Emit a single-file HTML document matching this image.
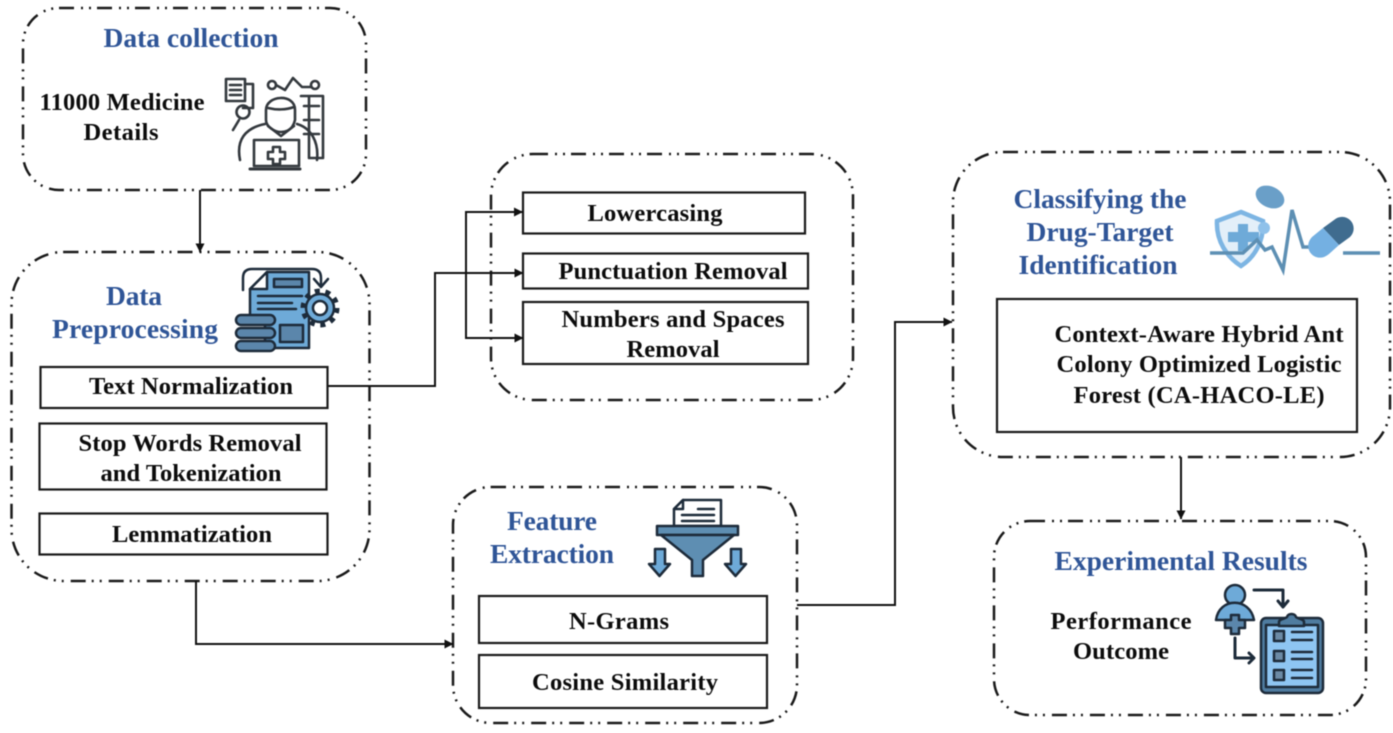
<!DOCTYPE html>
<html><head><meta charset="utf-8"><style>
html,body{margin:0;padding:0;background:#fff;width:1393px;height:733px;overflow:hidden}
svg{display:block;filter:blur(.45px)}
text{font-family:"Liberation Serif",serif;font-weight:bold;font-size:24.5px;fill:#0c0c0c;text-anchor:middle}
.h{fill:#2f5597;font-size:27.5px}
.b{fill:none;stroke:#1a1a1a;stroke-width:2.5;stroke-dasharray:15 7 2 6 2 6}
.r{fill:#fff;stroke:#1a1a1a;stroke-width:2.2}
.c{fill:none;stroke:#111;stroke-width:2}
.i{stroke:#1d2b3a;stroke-width:2.5;stroke-linejoin:round;stroke-linecap:round}
.k{fill:none;stroke:#33383d;stroke-width:2.6;stroke-linejoin:round;stroke-linecap:round}
</style></head><body>
<svg width="1393" height="733" viewBox="0 0 1393 733" xmlns="http://www.w3.org/2000/svg">
<defs><marker id="a" markerWidth="10" markerHeight="10" refX="8.500" refY="5" orient="auto" markerUnits="userSpaceOnUse"><path d="M0 0.500L9 5L0 9.500Z" fill="#111"/></marker></defs>
<rect class="b" x="23" y="8" width="343" height="182" rx="36"/>
<rect class="b" x="11.500" y="252" width="358" height="329" rx="52"/>
<rect class="b" x="491" y="154" width="362" height="246" rx="42"/>
<rect class="b" x="453" y="487" width="344" height="236" rx="38"/>
<rect class="b" x="953" y="152" width="437" height="305" rx="50"/>
<rect class="b" x="994" y="521" width="372" height="194" rx="36"/>

<rect class="r" x="40.500" y="367" width="287" height="41"/>
<rect class="r" x="39.500" y="423.500" width="287" height="66"/>
<rect class="r" x="39.500" y="513.500" width="288" height="41"/>
<rect class="r" x="523" y="192.500" width="282" height="41"/>
<rect class="r" x="523" y="253.500" width="285" height="35"/>
<rect class="r" x="523" y="302" width="285" height="62"/>
<rect class="r" x="479" y="596" width="288" height="47"/>
<rect class="r" x="479" y="655" width="288" height="53"/>
<rect class="r" x="997" y="299" width="360" height="133"/>

<path class="c" d="M200 190V252" marker-end="url(#a)"/>
<path class="c" d="M328 386H435V273H523" marker-end="url(#a)"/>
<path class="c" d="M523 212H466V338H523" marker-end="url(#a)"/>
<path class="c" d="M196 581V644H453" marker-end="url(#a)"/>
<path class="c" d="M797 605H895V322H952" marker-end="url(#a)"/>
<path class="c" d="M1181 457V519" marker-end="url(#a)"/>
<path d="M523 212l-9 -4.500v9z" fill="#111"/>

<text class="h" x="191" y="47" textLength="175">Data collection</text>
<text x="122" y="110" textLength="165">11000 Medicine</text>
<text x="121" y="140" textLength="75">Details</text>
<text class="h" x="134" y="305" textLength="56">Data</text>
<text class="h" x="135" y="338" textLength="166">Preprocessing</text>
<text x="191" y="394" textLength="204">Text Normalization</text>
<text x="190" y="451" textLength="223">Stop Words Removal</text>
<text x="191" y="481" textLength="181">and Tokenization</text>
<text x="192" y="542" textLength="160">Lemmatization</text>
<text x="655" y="221" textLength="135">Lowercasing</text>
<text x="673" y="279" textLength="229">Punctuation Removal</text>
<text x="673" y="327" textLength="223">Numbers and Spaces</text>
<text x="673" y="357" textLength="93">Removal</text>
<text class="h" x="552" y="530" textLength="90">Feature</text>
<text class="h" x="552" y="563" textLength="124">Extraction</text>
<text x="619" y="629" textLength="100">N-Grams</text>
<text x="625" y="690" textLength="186">Cosine Similarity</text>
<text class="h" x="1100" y="208" textLength="173">Classifying the</text>
<text class="h" x="1100" y="241" textLength="147">Drug-Target</text>
<text class="h" x="1098" y="274" textLength="159">Identification</text>
<text x="1199" y="342" textLength="289">Context-Aware Hybrid Ant</text>
<text x="1199" y="372" textLength="285">Colony Optimized Logistic</text>
<text x="1199" y="403" textLength="251">Forest (CA-HACO-LE)</text>
<text class="h" x="1181" y="570" textLength="253">Experimental Results</text>
<text x="1121" y="629" textLength="141">Performance</text>
<text x="1121" y="659" textLength="96">Outcome</text>

<!-- doctor icon -->
<g class="k">
<path d="M226 79h19v22h-19z"/><path d="M245 84h8v24h-10"/><path d="M230 85h11M230 90h11M230 95h11"/>
<circle cx="243" cy="112" r="6.500"/><path d="M239 120l-6 10"/>
<circle cx="272" cy="85" r="4"/><circle cx="315" cy="85" r="4"/><path d="M276 85l9 5 8-12 9 9h9"/>
<path d="M301 96h22v62h-14V96M304 106h15M304 120h15M304 134h15"/>
<path d="M266 110c0-15 29-17 29 0v10c-2 9-8 12-14 12s-15-5-15-12z"/><path d="M268 108c8 2 18 2 26-1"/>
<path d="M268 126l13 10 13-10"/>
<path d="M240 160c-4-20 5-32 25-36M297 124c14 4 22 18 20 36"/>
<path d="M254 140h45v26h-45z"/><path d="M250 169h50" stroke-width="3"/>
<path d="M273 147h7v5h5v7h-5v5h-7v-5h-5v-7h5z"/>
</g>

<!-- preprocessing icon -->
<g class="i">
<path d="M243 290v-12q0-9 9-9h60q9 0 9 9v7" fill="none"/>
<path d="M314 279l7 8 7-8" fill="none"/>
<path d="M267 272h42v76h-44v-26h-15v-33z" fill="#6eaad8"/>
<path d="M267 272l-17 17h17z" fill="#fff"/>
<rect x="274" y="279" width="28" height="8" fill="#5b86ab"/>
<path d="M258 296h44M258 303h34M258 309h38" fill="none"/>
<rect x="280" y="325" width="23" height="17" fill="#5b86ab"/>
<circle cx="320" cy="308" r="14" fill="#6eaad8"/>
<circle cx="320" cy="308" r="17" fill="none" stroke="#1d2b3a" stroke-width="5" stroke-dasharray="5 5.680" stroke-linecap="butt"/>
<circle cx="320" cy="308" r="7" fill="#fff"/>
<rect x="236" y="315" width="39" height="10" rx="5" fill="#5b86ab"/>
<rect x="236" y="328" width="39" height="10" rx="5" fill="#5b86ab"/>
<rect x="236" y="341" width="39" height="10" rx="5" fill="#5b86ab"/>
</g>

<!-- funnel icon -->
<g class="i">
<path d="M683 500h38v26h-47v-17z" fill="#fff"/><path d="M683 500l-9 9h9z" fill="#fff"/>
<path d="M682 515h32M682 521h32M698 509h16" fill="none"/>
<rect x="657" y="526" width="81" height="9" fill="#5e8eb2"/>
<path d="M661 535h73l-31 25v16h-11v-16z" fill="#5e8eb2"/>
<path d="M655 549h10v15h5l-10.500 12L649 564h6z" fill="#6eaad8"/>
<path d="M731 549h10v15h5l-10.500 12L725 564h6z" fill="#6eaad8"/>
</g>

<!-- drug icon -->
<g>
<ellipse cx="1270" cy="197" rx="15" ry="10.500" fill="#6a9fc8" transform="rotate(25 1270 197)"/>
<path d="M1241 212l22 9c1 20-8 36-22 45-14-9-25-25-24-45z" fill="#e3eff9" stroke="#7db5e3" stroke-width="4.500"/>
<path d="M1238 224h10v8h11v10h-11v9h-10v-9h-10v-10h10z" fill="#6eaad8"/>
<circle cx="1264" cy="228" r="6" fill="#8fc1ea"/>
<path d="M1210 253h33l14-13 8 10 7-3 11 23 9-60 11 37h9" fill="none" stroke="#5d8fb3" stroke-width="3.500"/>
<path d="M1343 253h37" fill="none" stroke="#5d8fb3" stroke-width="3.500"/>
<path d="M1323 228l11-8a11.500 11.500 0 0 1 16 17l-11 8z" fill="#3f6c8f"/>
<path d="M1323 228l16 17-10 9c-13 11-28-5-17-17z" fill="#74b0e2"/>
</g>

<!-- results icon -->
<g class="i">
<circle cx="1235" cy="595" r="10" fill="#6eaad8"/>
<path d="M1216 620c3-23 34-23 38 0z" fill="#6eaad8"/>
<path d="M1231 615h8v5h6v8h-6v6h-8v-6h-6v-8h6z" fill="#5b86ab"/>
<path d="M1254 590h29v16M1278 601l5 6 5-6M1235 638v20h18M1249 653l5 5-5 5" fill="none" stroke-width="3"/>
<rect x="1261" y="618" width="62" height="75" rx="5" fill="#4f7ca0"/>
<rect x="1266" y="625" width="52" height="62" fill="#8ec5f2"/>
<path d="M1279 622c0-3 6-3 8-5 1-4 8-4 9 0 2 2 8 2 8 5v4h-25z" fill="#4f7ca0"/>
<rect x="1274" y="631" width="10" height="10" fill="#6c8aa5"/><rect x="1274" y="651" width="10" height="10" fill="#6c8aa5"/><rect x="1274" y="670" width="10" height="10" fill="#6c8aa5"/>
<path d="M1292 632h20M1292 640h20M1292 652h20M1292 659h20M1292 670h20M1292 678h20" fill="none"/>
</g>
</svg>
</body></html>
